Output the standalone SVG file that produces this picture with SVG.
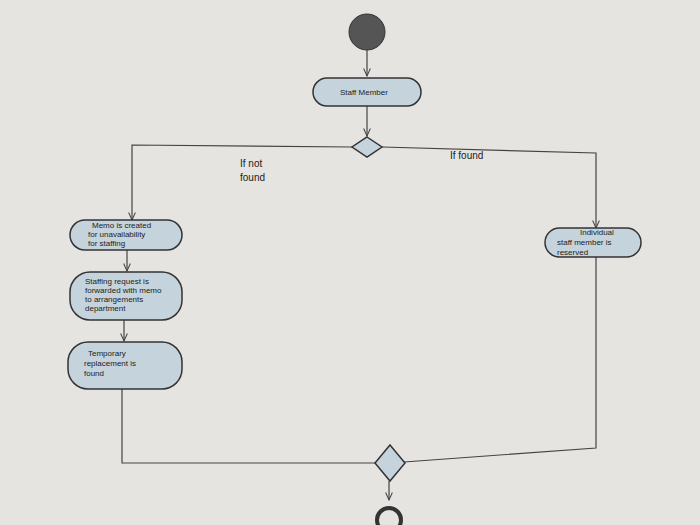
<svg xmlns="http://www.w3.org/2000/svg" width="700" height="525" viewBox="0 0 700 525">
<defs>
<style>
.n{fill:#c5d3dc;stroke:#333;stroke-width:1.5}
.t{font-family:"Liberation Sans",Arial,sans-serif;font-size:8px;fill:#222}
.l{font-family:"Liberation Sans",Arial,sans-serif;font-size:10px;fill:#222}
.c{fill:none;stroke:#444;stroke-width:1.2}
</style>
<marker id="a" viewBox="0 0 10 10" refX="9" refY="5" markerWidth="7" markerHeight="7" orient="auto"><path d="M0,1 L9,5 L0,9" fill="none" stroke="#444" stroke-width="1.2"/></marker>
</defs>
<rect width="700" height="525" fill="#e6e4e0"/>
<g id="connectors">
<path class="c" d="M367,50 V76" marker-end="url(#a)"/>
<path class="c" d="M367,106 V136" marker-end="url(#a)"/>
<path class="c" d="M352,147 L132,145 V220" marker-end="url(#a)"/>
<path class="c" d="M382,147 L596,153 V228" marker-end="url(#a)"/>
<path class="c" d="M127,250 V271" marker-end="url(#a)"/>
<path class="c" d="M124,320 V341" marker-end="url(#a)"/>
<path class="c" d="M122,389 V463 L376,463"/>
<path class="c" d="M596,257 V448 L404,462"/>
<path class="c" d="M389,481 V500" marker-end="url(#a)"/>
</g>
<g id="start"><circle cx="367" cy="32" r="18" fill="#555" stroke="#333"/></g>
<g id="staff"><rect class="n" x="313" y="78" width="108" height="28" rx="14"/><text class="t" x="340" y="95">Staff Member</text></g>
<g id="d1"><polygon class="n" points="367,137 382,147 367,157 352,147"/></g>
<text class="l" x="240" y="167">If not</text><text class="l" x="240" y="181">found</text>
<text class="l" x="450" y="159">If found</text>
<g id="memo"><rect class="n" x="70" y="220" width="112" height="30" rx="15"/><text class="t" x="92" y="228">Memo is created</text><text class="t" x="88" y="237">for unavailability</text><text class="t" x="88" y="246">for staffing</text></g>
<g id="req"><rect class="n" x="70" y="272" width="112" height="48" rx="20"/><text class="t" font-size="7" x="85" y="284">Staffing request is</text><text class="t" font-size="7" x="85" y="293">forwarded with memo</text><text class="t" font-size="7" x="85" y="302">to arrangements</text><text class="t" font-size="7" x="85" y="311">department</text></g>
<g id="temp"><rect class="n" x="68" y="342" width="114" height="47" rx="20"/><text class="t" x="88" y="356">Temporary</text><text class="t" x="84" y="366">replacement is</text><text class="t" x="84" y="376">found</text></g>
<g id="indiv"><rect class="n" x="545" y="228" width="96" height="29" rx="14.5"/><text class="t" font-size="7" x="580" y="235">Individual</text><text class="t" font-size="7" x="557" y="245">staff member is</text><text class="t" font-size="7" x="557" y="255">reserved</text></g>
<g id="d2"><polygon class="n" points="390,445 405,463 390,481 375,463"/></g>
<g id="end"><circle cx="389" cy="520" r="12" fill="none" stroke="#333" stroke-width="4"/></g>
</svg>
